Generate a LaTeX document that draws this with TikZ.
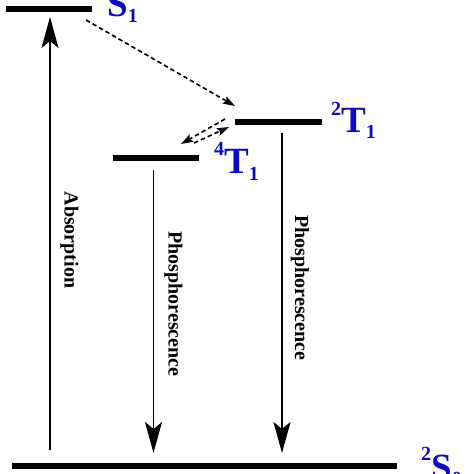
\documentclass[tikz,border=0pt]{standalone}
\usepackage{fontspec}
\setmainfont{Liberation Serif}
\usetikzlibrary{arrows.meta}
\definecolor{lvlblue}{RGB}{10,10,205}
\newcommand{\bigtxt}{\fontsize{37}{37}\selectfont\bfseries}
\newcommand{\smtxt}{\fontsize{20}{20}\selectfont\bfseries}
\begin{document}
\begin{tikzpicture}[x=1pt,y=-1pt,
  levelbar/.style={fill=black,draw=none,inner sep=0pt,minimum height=5.5pt},
  bigarrow/.style={line width=1.4pt,-{Stealth[length=31pt,width=17pt,inset=7pt]}},
  dasharrow/.style={line width=1.6pt,dash pattern=on 4.5pt off 3pt,-{Stealth[length=12pt,width=8pt,inset=2pt]}},
  lbl/.style={text=lvlblue,anchor=base west,inner sep=0pt},
  vlabel/.style={font=\fontsize{20}{20}\selectfont\bfseries,rotate=-90,inner sep=0pt}]
\useasboundingbox (0,0) rectangle (474,474);
% levels
\node[levelbar,minimum width=86pt] (S1) at (49,9) {};
\node[levelbar,minimum width=87pt] (T2) at (278.5,122) {};
\node[levelbar,minimum width=86pt] (T4) at (155.5,158) {};
\node[levelbar,minimum width=385pt] (S0) at (204.5,466) {};
% labels
\node[lbl] (S1l) at (107,16) {\bigtxt S\raisebox{-6pt}{\smtxt 1}};
\node[lbl] (T2l) at (331,132) {\bigtxt\raisebox{17pt}{\smtxt 2}T\raisebox{-6pt}{\smtxt 1}};
\node[lbl] (T4l) at (214,173) {\bigtxt\raisebox{18pt}{\smtxt 4}T\raisebox{-7pt}{\smtxt 1}};
\node[lbl] (S0l) at (421,479) {\bigtxt\raisebox{19pt}{\smtxt 2}S\raisebox{-6pt}{\smtxt 0}};
% arrow end points
\coordinate (absB) at (50,450);
\coordinate (absT) at (50,17);
\coordinate (p1T) at (153.5,170);
\coordinate (p1B) at (153.5,453);
\coordinate (p2T) at (282,133);
\coordinate (p2B) at (282,453);
\coordinate (iscA) at (86,20);
\coordinate (iscB) at (235,106);
\coordinate (dA1) at (225,119);
\coordinate (dA2) at (181,144);
\coordinate (dB1) at (194,143);
\coordinate (dB2) at (229,127);
% arrows
\draw[bigarrow] (absB) -- (absT);
\draw[bigarrow] (p1T) -- (p1B);
\draw[bigarrow] (p2T) -- (p2B);
\draw[dasharrow] (iscA) -- (iscB);
\draw[dasharrow] (dA1) -- (dA2);
\draw[dasharrow] (dB1) -- (dB2);
% vertical labels
\node[vlabel] (absl) at (69.5,240) {Absorption};
\node[vlabel] (p1l) at (173.5,304) {Phosphorescence};
\node[vlabel] (p2l) at (300,288) {Phosphorescence};
\end{tikzpicture}
\end{document}
